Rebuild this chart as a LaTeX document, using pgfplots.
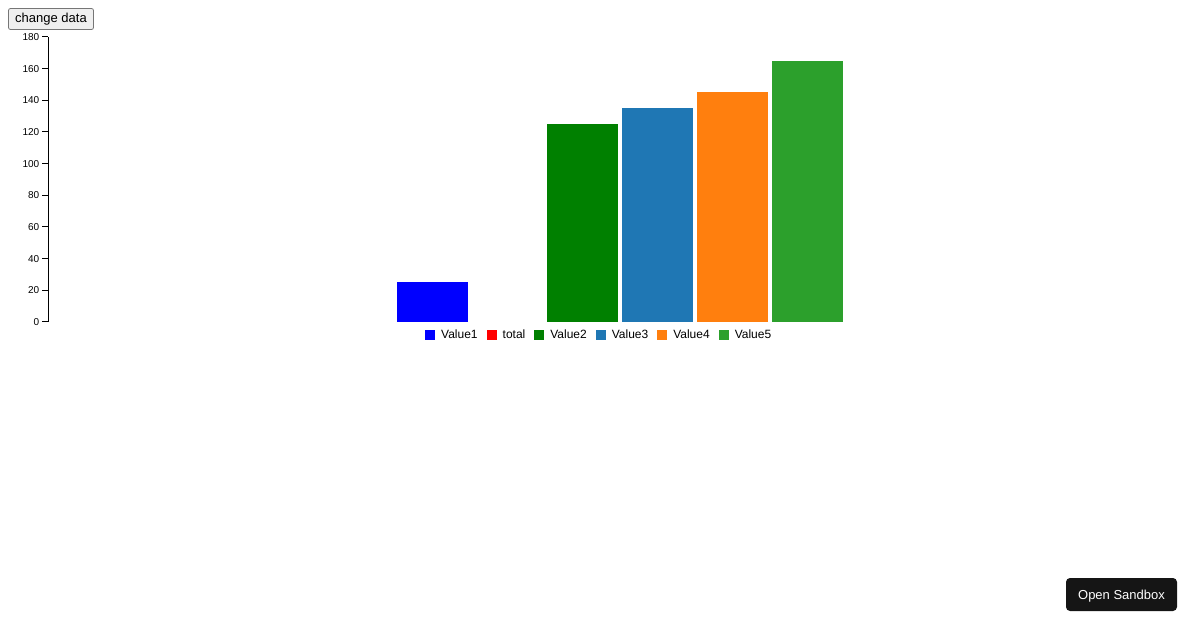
\documentclass[border=0pt]{standalone}
\usepackage{pgfplots}
\pgfplotsset{compat=1.18}
\usepackage{fontspec}
\setmainfont{Liberation Sans}

\definecolor{cValueA}{HTML}{0000FF}
\definecolor{cTotal}{HTML}{FF0000}
\definecolor{cValueB}{HTML}{008000}
\definecolor{cValueC}{HTML}{1F77B4}
\definecolor{cValueD}{HTML}{FF7F0E}
\definecolor{cValueE}{HTML}{2CA02C}
\definecolor{btnFill}{HTML}{EFEFEF}
\definecolor{btnLine}{HTML}{767676}
\definecolor{sbxFill}{HTML}{151515}

\begin{document}
\begin{tikzpicture}[x=1pt,y=1pt]
% page frame, 1px = 1pt
\path (0,0) rectangle (1200,630);

% buttons
\draw[rounded corners=2pt, draw=btnLine, fill=btnFill, line width=0.8pt] (8.5,600.5) rectangle (93.5,621.5);
\node[font=\fontsize{13}{15}\selectfont, inner sep=0pt] at (51,610.5) {change data};
\fill[rounded corners=4pt, sbxFill] (1066,19) rectangle (1177,52);
\node[text=white, font=\fontsize{13}{15}\selectfont, inner sep=0pt] at (1121.5,33.5) {Open Sandbox};

\begin{axis}[
  at={(48pt,308pt)}, anchor=south west,
  scale only axis, width=795pt, height=285pt,
  xmin=48, xmax=843, ymin=0, ymax=180,
  axis x line=none, axis y line=left,
  axis line style={-, black, line width=1pt},
  ytick={0,20,...,180},
  tick align=outside, major tick length=6pt,
  tick style={black, line width=1pt},
  yticklabel style={font=\fontsize{10}{12}\selectfont,
    /pgf/number format/assume math mode=true, inner xsep=2.5pt},
  ybar, bar width=71,
  every axis plot/.append style={bar shift=0pt, draw=none},
  legend columns=-1,
  legend style={at={(0.4742,-0.0445)}, anchor=west, draw=none, fill=none,
    inner sep=0pt, font=\fontsize{12}{14}\selectfont,
    nodes={inner sep=0pt},
    /tikz/every odd column/.append style={column sep=6pt},
    /tikz/every even column/.append style={column sep=9pt}},
  legend image code/.code={\fill[#1] (0pt,-5pt) rectangle (10pt,5pt);},
]
\addplot[fill=cValueA] coordinates {(432.5,25)};
\addlegendentry{Value1}
% total has no height: keep it out of sight, show its colour in the legend
\addplot[fill=none, legend image code/.code={\fill[cTotal] (0pt,-5pt) rectangle (10pt,5pt);}]
  coordinates {(507.5,0)};
\addlegendentry{total}
\addplot[fill=cValueB] coordinates {(582.5,125)};
\addlegendentry{Value2}
\addplot[fill=cValueC] coordinates {(657.5,135)};
\addlegendentry{Value3}
\addplot[fill=cValueD] coordinates {(732.5,145)};
\addlegendentry{Value4}
\addplot[fill=cValueE] coordinates {(807.5,165)};
\addlegendentry{Value5}
\end{axis}
\end{tikzpicture}
\end{document}
